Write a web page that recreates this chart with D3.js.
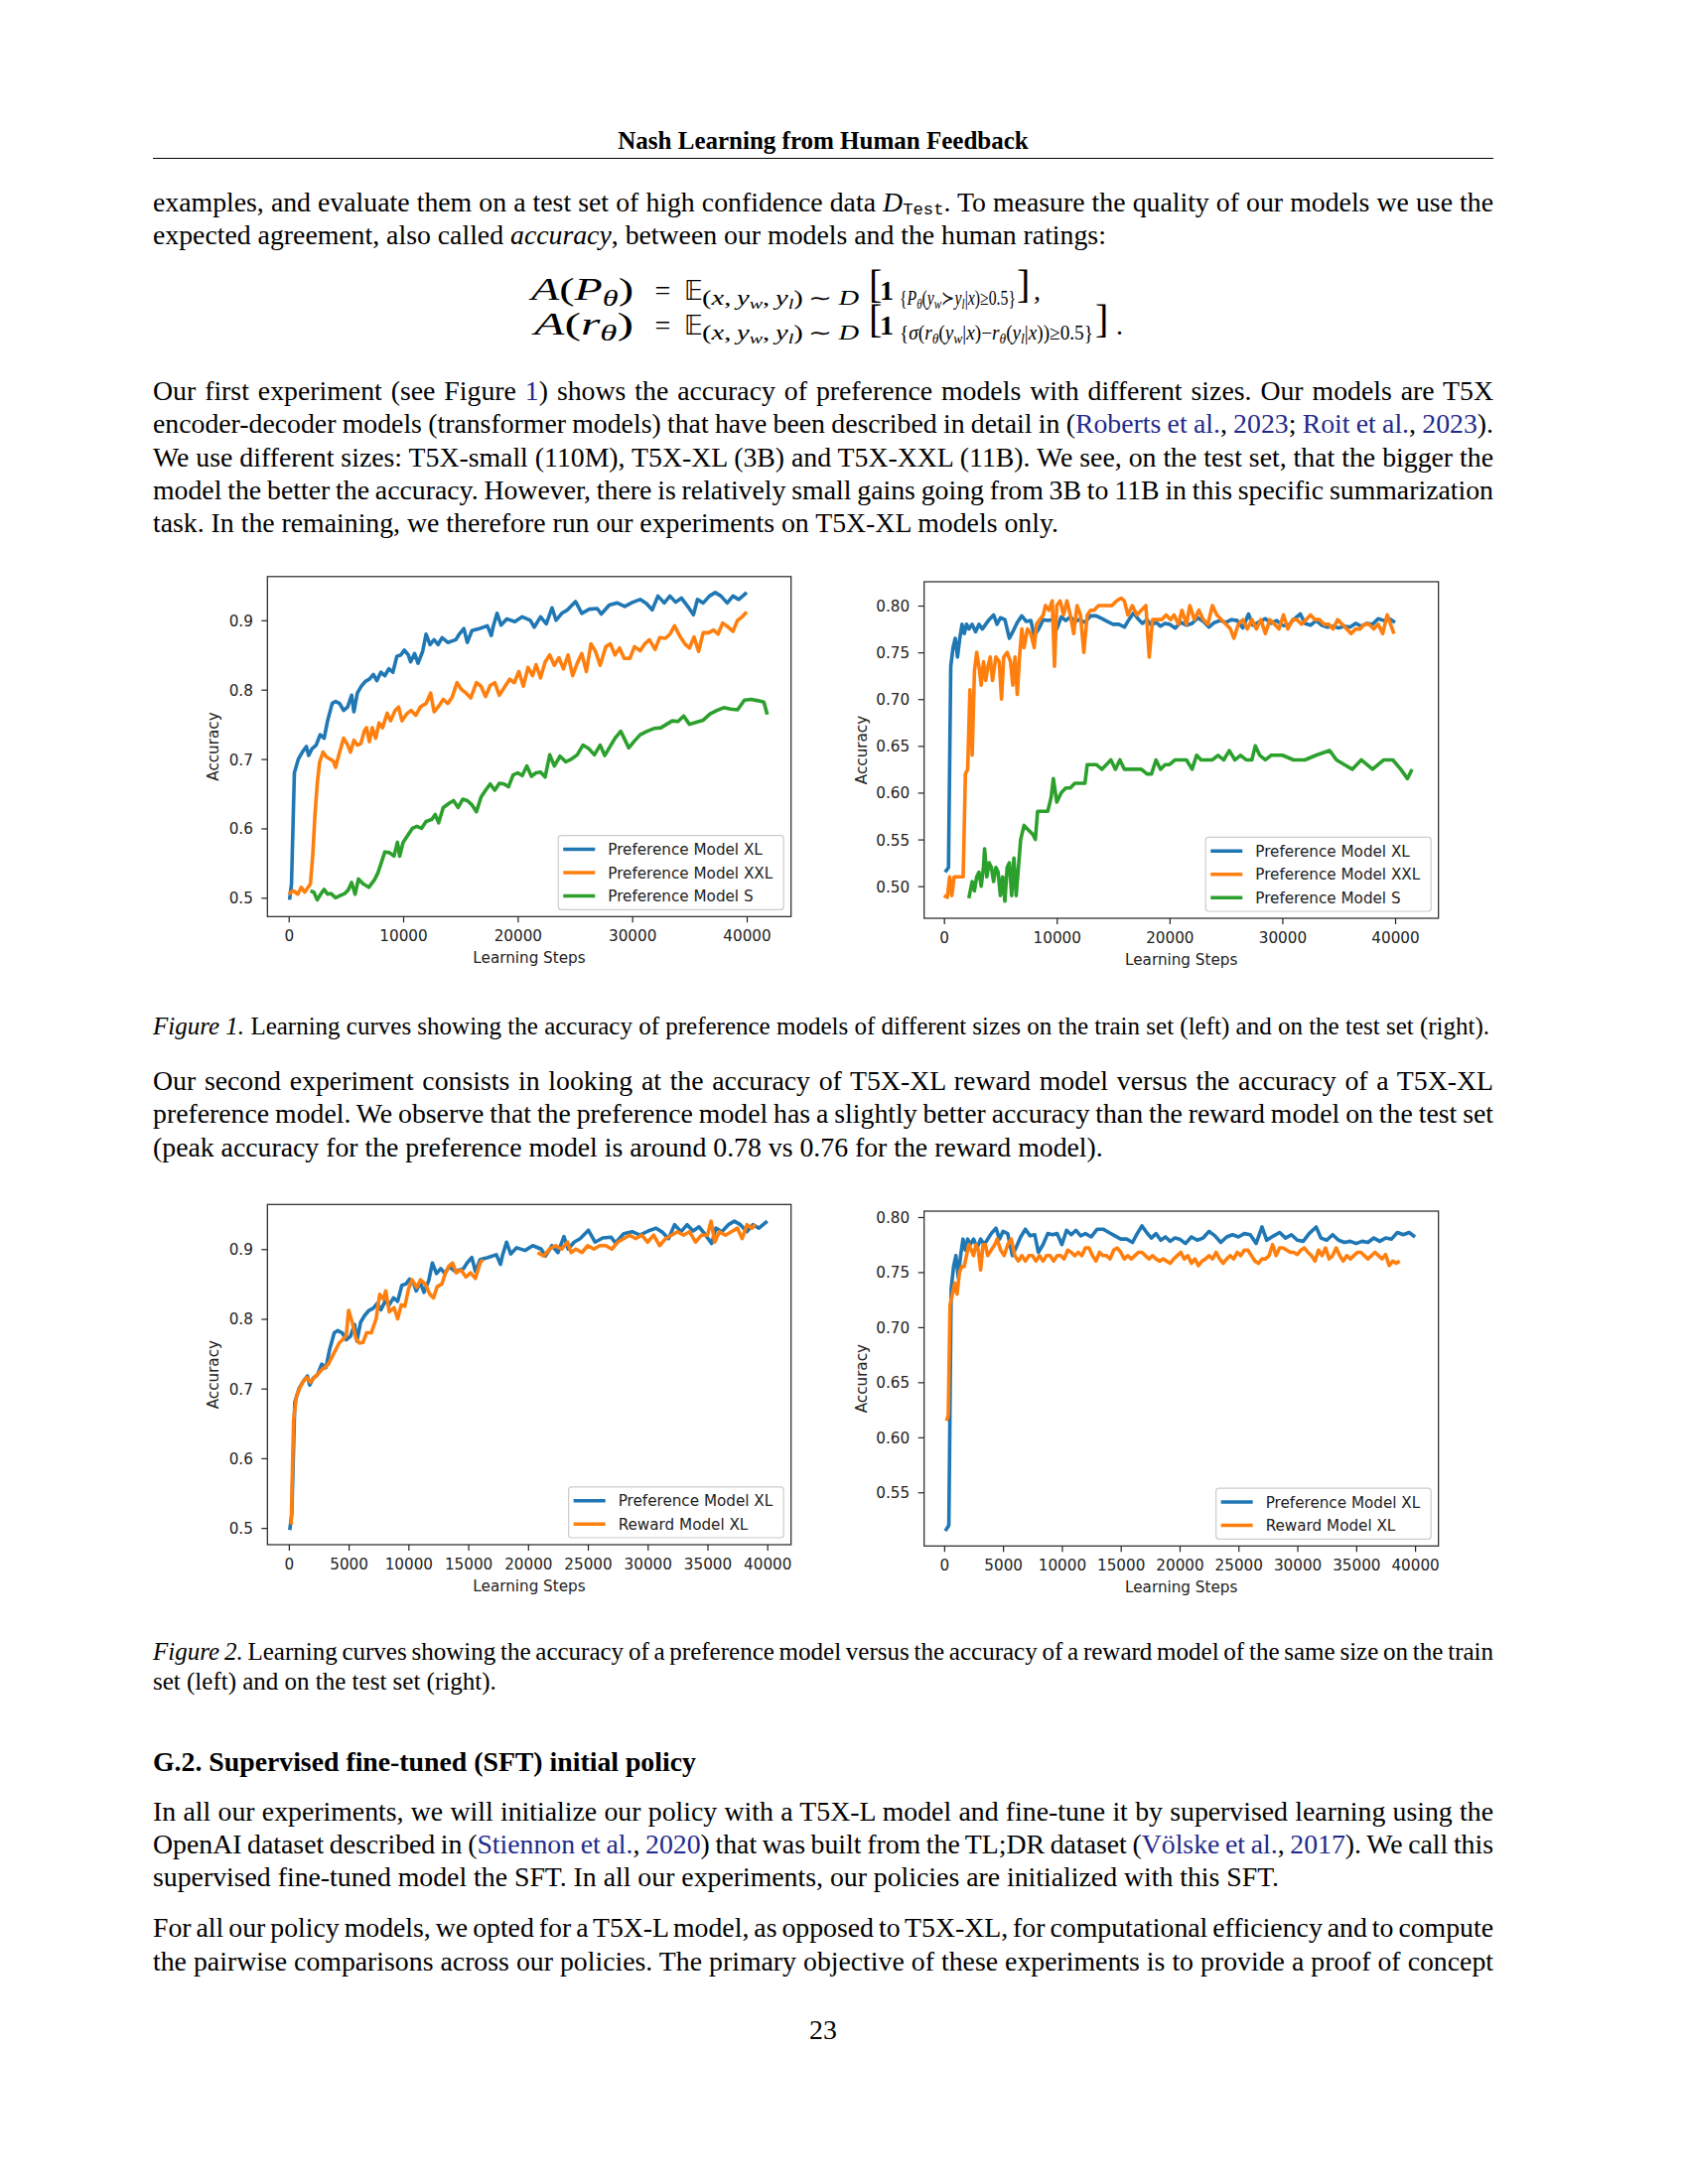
<!DOCTYPE html>
<html><head><meta charset="utf-8">
<script src="https://cdn.jsdelivr.net/npm/d3@7"></script>
<style>
html,body{margin:0;padding:0;background:#fff;}
body{width:1700px;height:2200px;position:relative;overflow:hidden;}
.ln{position:absolute;left:154px;white-space:nowrap;font-family:"Liberation Serif","Times New Roman",serif;color:#000;}
.ln a{color:#1f2a8c;text-decoration:none;}
.ln sub{font-size:0.7em;vertical-align:-0.28em;line-height:0;}
.ln span.tt{font-family:"Liberation Mono","DejaVu Sans Mono",monospace;font-size:0.62em;position:relative;top:3px;line-height:0;}
.bb{font-family:"DejaVu Sans",sans-serif;font-size:0.92em;}
svg text{font-family:"DejaVu Sans",sans-serif;}
</style></head><body>
<script>
// ---------------- DATA ----------------
const trainXL = [[80,0.497],[250,0.52],[500,0.68],[850,0.70],[1200,0.71],[1550,0.718],[1750,0.705],[2050,0.715],[2400,0.72],[2750,0.735],[3100,0.73],[3400,0.755],[3800,0.78],[4100,0.783],[4450,0.78],[4800,0.77],[5150,0.775],[5500,0.792],[5700,0.768],[6000,0.795],[6350,0.805],[6700,0.812],[7050,0.815],[7400,0.822],[7700,0.813],[8050,0.825],[8400,0.82],[8750,0.83],[9100,0.825],[9450,0.848],[9800,0.85],[10100,0.857],[10450,0.85],[10650,0.84],[11000,0.852],[11300,0.838],[11700,0.855],[12000,0.88],[12350,0.865],[12700,0.872],[13050,0.865],[13400,0.875],[13900,0.868],[14600,0.872],[14900,0.88],[15300,0.888],[15600,0.868],[16000,0.885],[16650,0.888],[17350,0.892],[17700,0.878],[17850,0.89],[18200,0.91],[18550,0.893],[19050,0.902],[19750,0.898],[20400,0.905],[21100,0.9],[21450,0.89],[22000,0.905],[22500,0.895],[23000,0.918],[23350,0.9],[23850,0.91],[24350,0.915],[25050,0.927],[25600,0.91],[26250,0.916],[26950,0.917],[27300,0.909],[28000,0.922],[28700,0.925],[29350,0.92],[30050,0.926],[30700,0.93],[31250,0.924],[31750,0.915],[32250,0.935],[32800,0.925],[33300,0.935],[33800,0.926],[34300,0.932],[34850,0.92],[35350,0.908],[35700,0.93],[36200,0.925],[36750,0.935],[37250,0.94],[37750,0.935],[38300,0.925],[38800,0.935],[39300,0.93],[40000,0.94]];

const trainXXL = [[0,0.505],[400,0.51],[800,0.505],[1100,0.515],[1400,0.508],[1700,0.515],[1900,0.52],[2100,0.56],[2300,0.62],[2500,0.665],[2700,0.695],[3000,0.71],[3300,0.703],[3600,0.7],[3900,0.697],[4100,0.688],[4400,0.707],[4800,0.73],[5100,0.722],[5400,0.71],[5700,0.727],[6000,0.72],[6300,0.722],[6600,0.74],[6800,0.745],[7050,0.725],[7300,0.745],[7600,0.73],[7900,0.752],[8200,0.745],[8600,0.766],[8900,0.755],[9300,0.77],[9600,0.775],[9900,0.755],[10300,0.765],[10700,0.77],[11100,0.763],[11500,0.775],[12000,0.78],[12400,0.795],[12700,0.768],[13100,0.776],[13500,0.786],[13900,0.78],[14300,0.79],[14700,0.81],[15100,0.8],[15500,0.795],[15900,0.788],[16400,0.81],[16800,0.805],[17200,0.79],[17600,0.806],[18000,0.81],[18400,0.792],[18900,0.805],[19300,0.815],[19700,0.81],[20100,0.826],[20500,0.805],[20900,0.832],[21300,0.82],[21600,0.836],[22000,0.817],[22400,0.84],[22800,0.85],[23200,0.835],[23600,0.846],[24000,0.83],[24400,0.85],[24800,0.82],[25200,0.838],[25600,0.852],[26000,0.826],[26400,0.866],[26800,0.855],[27200,0.835],[27700,0.862],[28100,0.866],[28500,0.85],[28900,0.86],[29300,0.845],[29800,0.845],[30200,0.862],[30700,0.856],[31100,0.866],[31500,0.872],[32000,0.858],[32400,0.875],[32900,0.874],[33300,0.88],[33700,0.892],[34200,0.876],[34600,0.866],[35000,0.86],[35400,0.876],[35800,0.855],[36200,0.882],[36700,0.882],[37100,0.886],[37500,0.88],[37900,0.896],[38400,0.89],[38800,0.884],[39200,0.9],[39600,0.905],[40000,0.912]];

const trainS = [[1900,0.51],[2200,0.508],[2500,0.497],[2800,0.505],[3100,0.512],[3400,0.505],[3700,0.506],[4100,0.5],[4500,0.503],[4900,0.506],[5200,0.511],[5500,0.522],[5800,0.505],[6100,0.527],[6500,0.52],[7000,0.515],[7500,0.526],[7800,0.536],[8100,0.551],[8400,0.566],[8800,0.565],[9200,0.56],[9500,0.58],[9700,0.56],[10000,0.58],[10400,0.59],[10800,0.6],[11200,0.603],[11600,0.6],[12000,0.61],[12500,0.613],[12800,0.62],[13100,0.608],[13500,0.63],[14000,0.636],[14400,0.64],[14800,0.63],[15200,0.642],[15600,0.64],[16000,0.634],[16400,0.624],[16800,0.645],[17200,0.655],[17600,0.664],[18000,0.655],[18400,0.665],[18800,0.664],[19200,0.66],[19600,0.677],[20000,0.68],[20400,0.676],[20800,0.69],[21200,0.675],[21600,0.68],[22000,0.681],[22400,0.674],[22800,0.706],[23200,0.69],[23700,0.704],[24200,0.696],[24700,0.7],[25200,0.706],[25700,0.72],[26200,0.715],[26700,0.706],[27200,0.72],[27600,0.705],[28000,0.716],[28500,0.73],[29000,0.74],[29300,0.73],[29700,0.716],[30200,0.726],[30700,0.735],[31300,0.74],[31900,0.744],[32500,0.745],[33000,0.75],[33500,0.755],[34000,0.754],[34500,0.762],[35000,0.75],[35600,0.753],[36200,0.756],[36800,0.765],[37400,0.77],[38000,0.774],[38600,0.772],[39200,0.771],[39800,0.785],[40400,0.786],[41000,0.784],[41500,0.782],[41800,0.764]];

const testXL = [[100,0.515],[400,0.52],[600,0.735],[800,0.755],[1000,0.765],[1200,0.745],[1400,0.765],[1600,0.78],[1800,0.77],[2000,0.78],[2200,0.775],[2500,0.78],[2800,0.772],[3100,0.78],[3400,0.775],[3700,0.78],[4000,0.785],[4400,0.79],[4700,0.78],[5000,0.787],[5400,0.785],[5800,0.765],[6100,0.772],[6500,0.782],[6900,0.789],[7300,0.783],[7700,0.784],[8000,0.768],[8400,0.775],[8800,0.785],[9200,0.784],[9600,0.785],[10000,0.775],[10400,0.788],[10800,0.784],[11200,0.788],[11600,0.783],[12000,0.785],[12500,0.782],[13000,0.789],[13500,0.789],[14000,0.786],[14500,0.783],[15000,0.78],[15500,0.78],[16000,0.777],[16400,0.785],[16800,0.792],[17200,0.786],[17600,0.781],[18000,0.785],[18400,0.779],[18800,0.782],[19200,0.778],[19600,0.781],[20000,0.78],[20500,0.776],[21000,0.782],[21500,0.779],[22000,0.781],[22500,0.787],[23000,0.783],[23500,0.777],[24000,0.782],[24500,0.784],[25000,0.782],[25500,0.785],[26000,0.784],[26500,0.776],[27000,0.791],[27400,0.779],[28000,0.783],[28500,0.786],[29000,0.781],[29500,0.784],[30000,0.779],[30500,0.778],[31000,0.785],[31600,0.791],[32000,0.781],[32500,0.779],[33000,0.784],[33500,0.779],[34000,0.777],[34500,0.778],[35000,0.776],[35500,0.778],[36000,0.777],[36500,0.781],[37000,0.778],[37500,0.781],[38000,0.78],[38500,0.786],[39000,0.784],[39500,0.786],[40000,0.782]];

const testXXL = [[0,0.49],[300,0.488],[500,0.51],[700,0.49],[900,0.51],[1200,0.51],[1500,0.51],[1700,0.51],[1900,0.62],[2100,0.625],[2300,0.71],[2500,0.64],[2700,0.73],[2900,0.75],[3100,0.735],[3300,0.715],[3500,0.74],[3700,0.72],[3900,0.735],[4100,0.745],[4300,0.72],[4600,0.745],[4900,0.74],[5100,0.70],[5300,0.745],[5600,0.75],[5900,0.74],[6100,0.715],[6300,0.745],[6500,0.705],[6700,0.745],[6900,0.775],[7100,0.755],[7400,0.775],[7700,0.77],[8000,0.755],[8200,0.78],[8500,0.785],[8800,0.79],[9000,0.8],[9300,0.795],[9600,0.805],[9800,0.735],[10000,0.8],[10300,0.805],[10600,0.79],[10900,0.805],[11200,0.79],[11500,0.77],[11800,0.8],[12100,0.79],[12400,0.75],[12700,0.79],[13000,0.795],[13300,0.795],[13700,0.8],[14100,0.8],[14500,0.8],[14900,0.8],[15300,0.805],[15700,0.808],[16000,0.805],[16300,0.79],[16700,0.8],[17100,0.79],[17500,0.795],[17900,0.8],[18200,0.745],[18500,0.785],[18900,0.785],[19300,0.785],[19700,0.79],[20100,0.785],[20400,0.79],[20800,0.78],[21100,0.795],[21500,0.78],[21800,0.8],[22200,0.785],[22600,0.795],[23000,0.785],[23400,0.78],[23800,0.8],[24200,0.79],[24600,0.785],[25000,0.78],[25400,0.775],[25700,0.765],[26100,0.78],[26500,0.785],[26900,0.775],[27300,0.785],[27700,0.775],[28100,0.785],[28500,0.77],[28900,0.785],[29300,0.78],[29700,0.775],[30100,0.79],[30500,0.775],[30900,0.785],[31300,0.785],[31700,0.78],[32100,0.785],[32500,0.79],[32900,0.785],[33300,0.785],[33700,0.78],[34100,0.78],[34500,0.775],[34900,0.785],[35300,0.78],[35700,0.775],[36100,0.77],[36500,0.775],[36900,0.775],[37300,0.78],[37700,0.78],[38100,0.775],[38500,0.78],[38900,0.77],[39300,0.79],[39600,0.78],[39900,0.77]];

const testS = [[2200,0.487],[2500,0.505],[2700,0.495],[2900,0.51],[3100,0.515],[3300,0.5],[3500,0.52],[3600,0.54],[3800,0.51],[4000,0.525],[4200,0.52],[4400,0.505],[4600,0.52],[4800,0.515],[5000,0.49],[5200,0.51],[5400,0.484],[5600,0.52],[5800,0.525],[6000,0.49],[6200,0.53],[6400,0.49],[6600,0.52],[6800,0.55],[7100,0.565],[7500,0.56],[7900,0.555],[8100,0.55],[8300,0.58],[8700,0.58],[9200,0.58],[9500,0.595],[9700,0.615],[10000,0.59],[10400,0.6],[10800,0.605],[11200,0.605],[11600,0.61],[12000,0.61],[12500,0.61],[12700,0.63],[13100,0.63],[13500,0.63],[14000,0.625],[14400,0.63],[14800,0.635],[15200,0.625],[15600,0.635],[16000,0.625],[16500,0.625],[17000,0.625],[17500,0.625],[18000,0.62],[18400,0.62],[18800,0.635],[19200,0.625],[19600,0.63],[20000,0.63],[20500,0.635],[21000,0.635],[21500,0.635],[22000,0.625],[22400,0.64],[22800,0.635],[23300,0.635],[23800,0.635],[24300,0.64],[24800,0.635],[25300,0.645],[25800,0.635],[26300,0.64],[26800,0.635],[27300,0.635],[27600,0.65],[28000,0.64],[28500,0.635],[29000,0.64],[30000,0.64],[31000,0.635],[32000,0.635],[33000,0.64],[34200,0.645],[34800,0.635],[35500,0.63],[36200,0.625],[37000,0.635],[38000,0.625],[39000,0.635],[39800,0.635],[40500,0.625],[41100,0.615],[41500,0.625]];

const trainRM = [[200,0.505],[400,0.655],[650,0.69],[900,0.7],[1200,0.71],[1500,0.716],[1800,0.709],[2100,0.715],[2400,0.72],[2700,0.726],[3000,0.73],[3300,0.735],[3600,0.745],[3900,0.755],[4200,0.765],[4500,0.77],[4800,0.776],[5000,0.812],[5300,0.795],[5600,0.772],[5900,0.765],[6200,0.766],[6500,0.78],[6900,0.78],[7300,0.8],[7600,0.835],[7900,0.828],[8100,0.84],[8400,0.81],[8800,0.816],[9100,0.8],[9400,0.82],[9700,0.818],[10000,0.842],[10300,0.856],[10700,0.845],[11000,0.856],[11400,0.85],[11800,0.835],[12100,0.83],[12400,0.846],[12800,0.85],[13100,0.866],[13400,0.876],[13700,0.88],[14000,0.866],[14400,0.87],[14800,0.86],[15200,0.866],[15600,0.858],[16000,0.88],[16200,0.885],[16400,null],[20800,0.895],[21300,0.89],[21800,0.9],[22300,0.905],[22800,0.9],[23300,0.91],[23600,0.895],[24000,0.9],[24500,0.895],[25000,0.905],[25500,0.9],[26000,0.905],[26500,0.905],[27000,0.9],[27500,0.91],[28000,0.915],[28500,0.92],[29000,0.915],[29500,0.92],[30000,0.91],[30500,0.92],[31000,0.905],[31500,0.915],[32000,0.92],[32500,0.925],[33000,0.92],[33500,0.925],[34000,0.91],[34500,0.92],[35000,0.92],[35300,0.94],[35600,0.91],[36000,0.925],[36500,0.92],[37000,0.925],[37500,0.93],[37900,0.915],[38300,0.935],[38700,0.93],[39000,0.935]];

const testRM = [[200,0.615],[350,0.62],[500,0.72],[700,0.73],[900,0.74],[1100,0.73],[1300,0.75],[1500,0.755],[1700,0.755],[1900,0.765],[2100,0.775],[2300,0.77],[2500,0.765],[2700,0.775],[2900,0.77],[3100,0.752],[3300,0.775],[3500,0.775],[3700,0.765],[4000,0.77],[4300,0.775],[4500,0.78],[4800,0.77],[5100,0.765],[5400,0.775],[5700,0.78],[6000,0.765],[6300,0.76],[6600,0.765],[6900,0.76],[7200,0.765],[7500,0.765],[7800,0.76],[8100,0.765],[8400,0.76],[8700,0.765],[9000,0.765],[9300,0.76],[9600,0.765],[9900,0.765],[10200,0.762],[10500,0.77],[10800,0.768],[11100,0.765],[11400,0.768],[11700,0.765],[12000,0.772],[12300,0.772],[12600,0.765],[12900,0.76],[13200,0.768],[13500,0.765],[13800,0.765],[14100,0.762],[14400,0.77],[14700,0.772],[15000,0.768],[15300,0.762],[15600,0.765],[15900,0.762],[16200,0.765],[16500,0.768],[16800,0.768],[17100,0.765],[17400,0.762],[17700,0.765],[18000,0.762],[18300,0.76],[18600,0.762],[18900,0.76],[19200,0.758],[19500,0.762],[19800,0.765],[20100,0.768],[20400,0.762],[20700,0.765],[21000,0.758],[21300,0.762],[21600,0.756],[21900,0.76],[22200,0.762],[22500,0.765],[22800,0.762],[23100,0.768],[23400,0.762],[23700,0.758],[24000,0.762],[24300,0.765],[24600,0.762],[24900,0.768],[25200,0.765],[25500,0.77],[25800,0.77],[26100,0.765],[26400,0.76],[26700,0.758],[27000,0.762],[27300,0.762],[27600,0.765],[27900,0.775],[28200,0.765],[28500,0.772],[28800,0.772],[29100,0.77],[29400,0.768],[29700,0.768],[30000,0.766],[30300,0.77],[30600,0.772],[30900,0.768],[31200,0.765],[31500,0.76],[31800,0.77],[32100,0.765],[32400,0.772],[32700,0.762],[33000,0.765],[33300,0.772],[33600,0.765],[33900,0.76],[34200,0.765],[34500,0.762],[34800,0.765],[35100,0.768],[35400,0.768],[35700,0.765],[36000,0.762],[36300,0.765],[36600,0.768],[36900,0.765],[37200,0.762],[37500,0.766],[37800,0.756],[38100,0.76],[38400,0.758],[38700,0.76]];

const xTicks10k = [0, 10000, 20000, 30000, 40000];
const xTicks5k = [0, 5000, 10000, 15000, 20000, 25000, 30000, 35000, 40000];
const yTicksTrain = [0.5, 0.6, 0.7, 0.8, 0.9];
const yTicksTest1 = [0.50, 0.55, 0.60, 0.65, 0.70, 0.75, 0.80];
const yTicksTest2 = [0.55, 0.60, 0.65, 0.70, 0.75, 0.80];
const labelsFig1 = ["Preference Model XL", "Preference Model XXL", "Preference Model S"];
const labelsFig2 = ["Preference Model XL", "Reward Model XL"];
const colors = ["#1f77b4", "#ff7f0e", "#2ca02c"];

// ---------------- PAGE TEXT ----------------
const body = d3.select("body");
const TW = 1350, BF = 27.78, CF = 25;
function addLine(html, baseline, o = {}) {
  const F = o.size || BF;
  const div = body.append("div").attr("class", "ln")
    .style("top", (baseline - 0.8375 * F) + "px")
    .style("font-size", F + "px").style("line-height", F + "px");
  if (o.bold) div.style("font-weight", "bold");
  const span = div.append("span").html(html);
  const w = span.node().getBoundingClientRect().width;
  if (o.justify) {
    const n = (span.node().textContent.match(/ /g) || []).length;
    span.style("word-spacing", ((TW - w) / n) + "px");
  }
  if (o.w) {
    span.style("display", "inline-block").style("transform-origin", "0 0")
      .style("transform", `scaleX(${o.w / w})`);
  }
  if (o.center != null) div.style("left", (o.center - w / 2) + "px");
  if (o.left != null) div.style("left", o.left + "px");
}
const A = s => `<a>${s}</a>`;

addLine("Nash Learning from Human Feedback", 149.5, {bold: true, center: 829, size: 25});
body.append("div").style("position", "absolute").style("left", "154px").style("top", "158.7px")
  .style("width", TW + "px").style("height", "1.6px").style("background", "#000");

addLine(`examples, and evaluate them on a test set of high confidence data <i>D</i><span class="tt">Test</span>. To measure the quality of our models we use the`, 213, {justify: true});
addLine(`expected agreement, also called <i>accuracy</i>, between our models and the human ratings:`, 246.3);

// equations, placed piece by piece
const EF = 32, SF = 20;
function equation(base, lhs, lhsX, lhsW, sub2, sub2W, closeX, punct, punctX) {
  addLine(lhs, base, {left: lhsX, size: EF, w: lhsW});
  addLine("=", base, {center: 667.5, size: 28});
  addLine(`<span class="bb">𝔼</span>`, base, {left: 689, size: 28});
  addLine(`(<i>x</i>,&thinsp;<i>y</i><sub><i>w</i></sub>,&thinsp;<i>y</i><sub><i>l</i></sub>)&thinsp;∼&thinsp;<i>D</i>`, base + 5, {left: 707, size: SF, w: 158});
  addLine("[", base - 2, {left: 875, size: 40});
  addLine("<b>1</b>", base, {left: 886, size: 28});
  addLine(sub2, base + 5, {left: 906, size: SF, w: sub2W});
  addLine("]", base - 2, {left: closeX, size: 40});
  addLine(punct, base, {left: punctX, size: 28});
}
equation(302, `<i>A</i>(<i>P</i><sub><i>θ</i></sub>)`, 535, 103,
  `{<i>P</i><sub><i>θ</i></sub>(<i>y</i><sub><i>w</i></sub>≻<i>y</i><sub><i>l</i></sub>|<i>x</i>)≥0.5}`, 117, 1024, ",", 1041);
equation(337, `<i>A</i>(<i>r</i><sub><i>θ</i></sub>)`, 538, 100,
  `{<i>σ</i>(<i>r</i><sub><i>θ</i></sub>(<i>y</i><sub><i>w</i></sub>|<i>x</i>)−<i>r</i><sub><i>θ</i></sub>(<i>y</i><sub><i>l</i></sub>|<i>x</i>))≥0.5}`, 195, 1103, ".", 1124);

addLine(`Our first experiment (see Figure ${A("1")}) shows the accuracy of preference models with different sizes. Our models are T5X`, 403.3, {justify: true});
addLine(`encoder-decoder models (transformer models) that have been described in detail in (${A("Roberts et al.")}, ${A("2023")}; ${A("Roit et al.")}, ${A("2023")}).`, 436.7, {justify: true});
addLine(`We use different sizes: T5X-small (110M), T5X-XL (3B) and T5X-XXL (11B). We see, on the test set, that the bigger the`, 470, {justify: true});
addLine(`model the better the accuracy. However, there is relatively small gains going from 3B to 11B in this specific summarization`, 503.3, {justify: true});
addLine(`task. In the remaining, we therefore run our experiments on T5X-XL models only.`, 536.7);

addLine(`<i>Figure 1.</i> Learning curves showing the accuracy of preference models of different sizes on the train set (left) and on the test set (right).`, 1041.5, {size: CF});

addLine(`Our second experiment consists in looking at the accuracy of T5X-XL reward model versus the accuracy of a T5X-XL`, 1098.3, {justify: true});
addLine(`preference model. We observe that the preference model has a slightly better accuracy than the reward model on the test set`, 1131.7, {justify: true});
addLine(`(peak accuracy for the preference model is around 0.78 vs 0.76 for the reward model).`, 1165);

addLine(`<i>Figure 2.</i> Learning curves showing the accuracy of a preference model versus the accuracy of a reward model of the same size on the train`, 1671.7, {size: CF, justify: true});
addLine(`set (left) and on the test set (right).`, 1701.7, {size: CF});

addLine(`G.2. Supervised fine-tuned (SFT) initial policy`, 1784, {bold: true});

addLine(`In all our experiments, we will initialize our policy with a T5X-L model and fine-tune it by supervised learning using the`, 1834, {justify: true});
addLine(`OpenAI dataset described in (${A("Stiennon et al.")}, ${A("2020")}) that was built from the TL;DR dataset (${A("Völske et al.")}, ${A("2017")}). We call this`, 1867.3, {justify: true});
addLine(`supervised fine-tuned model the SFT. In all our experiments, our policies are initialized with this SFT.`, 1900.7);

addLine(`For all our policy models, we opted for a T5X-L model, as opposed to T5X-XL, for computational efficiency and to compute`, 1951.7, {justify: true});
addLine(`the pairwise comparisons across our policies. The primary objective of these experiments is to provide a proof of concept`, 1985, {justify: true});

addLine(`23`, 2054, {center: 829});

// ---------------- CHARTS ----------------
const svg = body.append("svg").attr("width", 1700).attr("height", 2200)
  .style("position", "absolute").style("left", 0).style("top", 0);

const charts = [
  {box: [269.3, 580.8, 796.7, 923.3], xDom: [-1856, 43876], yDom: [0.4728, 0.963],
   series: [trainXL, trainXXL, trainS], labels: labelsFig1, xTicks: xTicks10k, yTicks: yTicksTrain, yFmt: ".1f", ylabOff: 54.5},
  {box: [930.7, 586, 1448.7, 925], xDom: [-1761, 43847], yDom: [0.4657, 0.8255],
   series: [testXL, testXXL, testS], labels: labelsFig1, xTicks: xTicks10k, yTicks: yTicksTest1, yFmt: ".2f", ylabOff: 63},
  {box: [269.3, 1213.3, 796.7, 1556], xDom: [-1790, 41990], yDom: [0.476, 0.964],
   series: [trainXL, trainRM], labels: labelsFig2, xTicks: xTicks5k, yTicks: yTicksTrain, yFmt: ".1f", ylabOff: 54.5},
  {box: [930.7, 1220, 1448.7, 1557.3], xDom: [-1700, 41990], yDom: [0.5013, 0.8054],
   series: [testXL, testRM], labels: labelsFig2, xTicks: xTicks5k, yTicks: yTicksTest2, yFmt: ".2f", ylabOff: 63}
];

const FS = 15.2, TXT = "#222", LW = 3.6;
charts.forEach(c => {
  const [L, T, R, B] = c.box;
  const x = d3.scaleLinear().domain(c.xDom).range([L, R]);
  const y = d3.scaleLinear().domain(c.yDom).range([B, T]);
  const g = svg.append("g");
  const line = d3.line().defined(d => d[1] != null).x(d => x(d[0])).y(d => y(d[1]));
  c.series.forEach((s, i) => {
    g.append("path").datum(s).attr("d", line).attr("fill", "none")
      .attr("stroke", colors[i]).attr("stroke-width", LW).attr("stroke-linejoin", "round");
  });
  const xa = g.append("g").attr("transform", `translate(0,${B})`)
    .call(d3.axisBottom(x).tickValues(c.xTicks).tickFormat(d3.format("d")).tickSize(6).tickSizeOuter(0).tickPadding(8.3));
  const ya = g.append("g").attr("transform", `translate(${L},0)`)
    .call(d3.axisLeft(y).tickValues(c.yTicks).tickFormat(d3.format(c.yFmt)).tickSize(6).tickSizeOuter(0).tickPadding(8.5));
  [xa, ya].forEach(a => {
    a.select(".domain").remove();
    a.selectAll("line").attr("stroke", "#222").attr("stroke-width", 1.2);
    a.selectAll("text").attr("fill", TXT).style("font-size", FS + "px").style("font-family", "DejaVu Sans");
  });
  ya.selectAll("text").attr("dy", "0.36em");
  g.append("rect").attr("x", L).attr("y", T).attr("width", R - L).attr("height", B - T)
    .attr("fill", "none").attr("stroke", "#222").attr("stroke-width", 1.2);
  g.append("text").attr("x", (L + R) / 2).attr("y", B + 46.5).attr("text-anchor", "middle")
    .attr("fill", TXT).style("font-size", FS + "px").text("Learning Steps");
  g.append("text").attr("transform", `translate(${L - c.ylabOff},${(T + B) / 2}) rotate(-90)`)
    .attr("text-anchor", "middle").attr("dy", "0.32em")
    .attr("fill", TXT).style("font-size", FS + "px").text("Accuracy");
  const lg = g.append("g");
  const texts = c.labels.map(l => lg.append("text").style("font-size", FS + "px").attr("fill", TXT).text(l));
  const maxW = d3.max(texts, t => t.node().getComputedTextLength());
  const n = c.labels.length;
  const bw = 50 + maxW + 11, bh = 27.6 + (n - 1) * 23.5;
  const bx = R - 7.5 - bw, by = B - 7 - bh;
  lg.insert("rect", "text").attr("x", bx).attr("y", by).attr("width", bw).attr("height", bh)
    .attr("rx", 3).attr("fill", "#fff").attr("fill-opacity", 0.8).attr("stroke", "#cccccc").attr("stroke-width", 1.2);
  texts.forEach((t, i) => {
    const yc = by + 13.8 + i * 23.5;
    t.attr("x", bx + 50).attr("y", yc + 5.5);
    lg.append("line").attr("x1", bx + 5).attr("x2", bx + 37).attr("y1", yc).attr("y2", yc)
      .attr("stroke", colors[i]).attr("stroke-width", LW);
  });
});
</script></body></html>
